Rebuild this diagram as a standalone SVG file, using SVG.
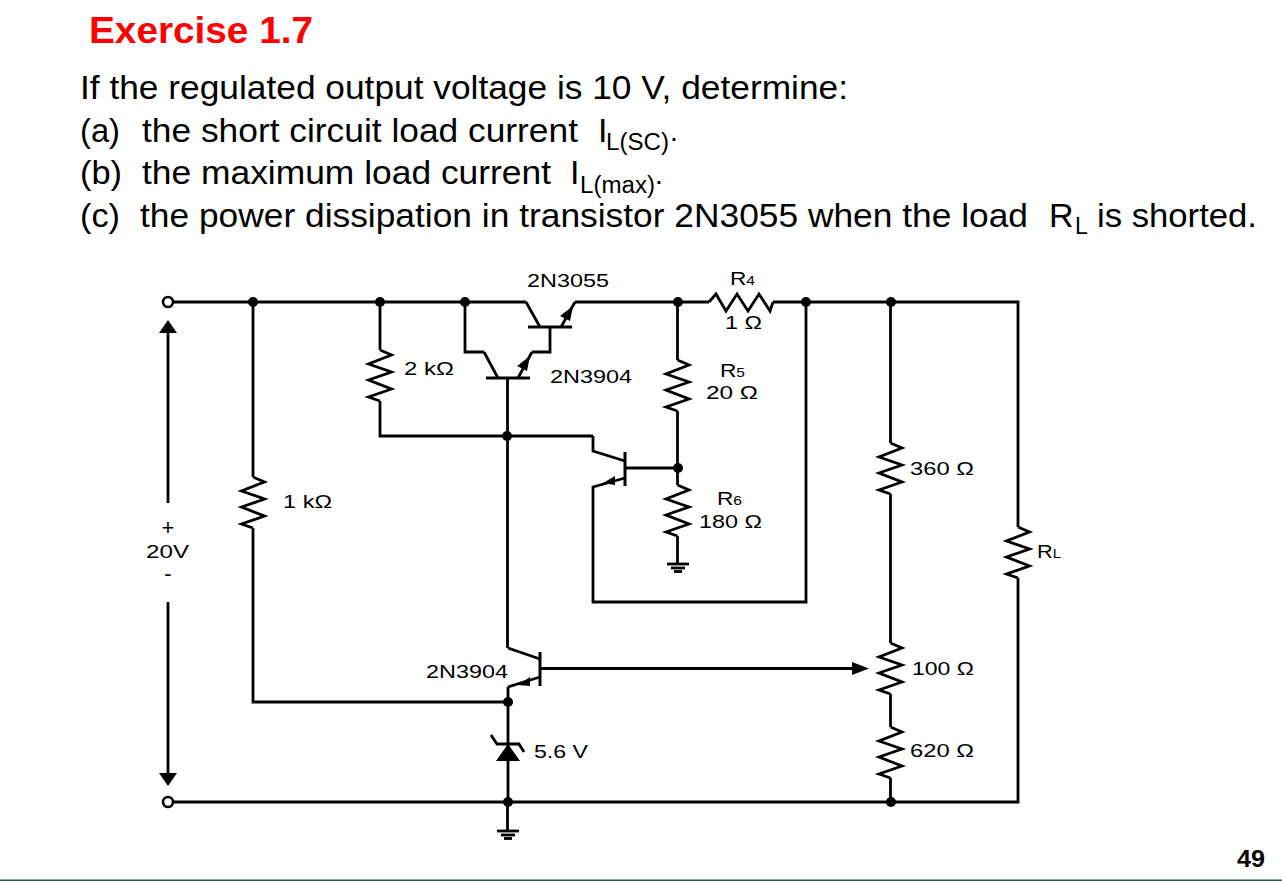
<svg xmlns="http://www.w3.org/2000/svg" xmlns:xlink="http://www.w3.org/1999/xlink" width="1282" height="881" viewBox="0 0 1282 881">
<style>
text{font-family:"Liberation Sans",Arial,sans-serif;fill:#000}
.t{font-size:34px}
.s{font-size:23px}
.d{font-size:28px}
.l{font-size:19px}
.c{text-anchor:middle}
.sm{font-size:13px}
.w{fill:none;stroke:#000;stroke-width:2.8;stroke-linejoin:miter}
.b{fill:none;stroke:#000;stroke-width:3}
.f{fill:#000;stroke:none}
</style>
<defs>
<path id="rv" class="w" d="M0 0 L11.500 5 L-11.500 14 L11.500 22 L-11.500 30 L11.500 39 L-11.500 47 L0 51"/>
<g id="gnd"><path class="w" d="M-11 0H11" /><path class="w" d="M-7 4H7" stroke-width="2"/><path class="w" d="M-4 7.500H4" stroke-width="2"/></g>
</defs>
<rect width="1282" height="881" fill="#fff"/>
<rect x="0" y="879.500" width="1282" height="1.500" fill="#2f4f4f"/>
<g id="heading">
<text x="89" y="43" font-size="37.500" font-weight="700" style="fill:#f00" textLength="224" lengthAdjust="spacingAndGlyphs">Exercise 1.7</text>
<text x="80" y="99" class="t" textLength="768" lengthAdjust="spacingAndGlyphs">If the regulated output voltage is 10 V, determine:</text>
<text x="80" y="142" class="t" textLength="40" lengthAdjust="spacingAndGlyphs">(a)</text>
<text x="142" y="142" class="t" textLength="436" lengthAdjust="spacingAndGlyphs">the short circuit load current</text>
<text x="598" y="142" class="t">I</text><text x="606" y="150" class="s" textLength="63" lengthAdjust="spacingAndGlyphs">L(SC)</text><text x="670" y="141" class="d">.</text>
<text x="80" y="184" class="t" textLength="42" lengthAdjust="spacingAndGlyphs">(b)</text>
<text x="142" y="184" class="t" textLength="409" lengthAdjust="spacingAndGlyphs">the maximum load current</text>
<text x="570" y="184" class="t">I</text><text x="580" y="193" class="s" textLength="75" lengthAdjust="spacingAndGlyphs">L(max)</text><text x="655" y="184" class="d">.</text>
<text x="80" y="227" class="t" textLength="40" lengthAdjust="spacingAndGlyphs">(c)</text>
<text x="140" y="227" class="t" textLength="888" lengthAdjust="spacingAndGlyphs">the power dissipation in transistor 2N3055 when the load</text>
<text x="1049" y="227" class="t">R</text><text x="1075" y="234" class="s">L</text>
<text x="1097" y="227" class="t" textLength="160" lengthAdjust="spacingAndGlyphs">is shorted.</text>
<text x="1237" y="867" font-size="23" font-weight="700" textLength="28" lengthAdjust="spacingAndGlyphs">49</text>
</g>
<g id="connectors">
<path class="w" d="M173 302H526M575 302H709M773 302H1018V527M1018 578V802H173"/>
<path class="w" d="M253 302V477M253 528V702H508"/>
<path class="w" d="M380 302V350M380 401V436H593"/>
<path class="w" d="M465 302V352H484"/>
<path class="w" d="M550 327V352H532"/>
<path class="w" d="M507.500 378V648M508 687V802"/>
<path class="w" d="M677.500 302V360M677.500 411V485M677.500 536V564"/>
<path class="w" d="M625 468H678"/>
<path class="w" d="M593 436V451L625 461M625 478L593 487V602H806V302"/>
<path class="w" d="M890.500 302V443M890.500 494V643M890.500 694V727M890.500 778V802"/>
<path class="w" d="M540 668.500H852"/>
<path class="w" d="M507.500 802V831"/>
<path class="w" d="M168 333V503M168 602V773" stroke-width="3"/>
</g>
<g id="input-top"><circle cx="168" cy="302" r="5" fill="#fff" stroke="#000" stroke-width="2.600"/></g>
<g id="input-bottom"><circle cx="168" cy="802" r="5" fill="#fff" stroke="#000" stroke-width="2.600"/></g>
<g id="voltage-arrow">
<path class="f" d="M168 320L177 333H159ZM168 786L177 773H159Z"/>
<text x="168" y="535" font-size="22" class="c">+</text>
<text x="146" y="558" class="l" textLength="43" lengthAdjust="spacingAndGlyphs">20V</text>
<text x="168" y="581" font-size="22" class="c">-</text>
</g>
<g id="junctions">
<circle class="f" cx="253" cy="302" r="5"/><circle class="f" cx="380" cy="302" r="5"/><circle class="f" cx="465" cy="302" r="5"/><circle class="f" cx="678" cy="302" r="5"/><circle class="f" cx="806" cy="302" r="5"/><circle class="f" cx="891" cy="302" r="5"/><circle class="f" cx="507" cy="436" r="5"/><circle class="f" cx="678" cy="468" r="5"/><circle class="f" cx="508" cy="702" r="5"/><circle class="f" cx="508" cy="802" r="5"/><circle class="f" cx="891" cy="802" r="5"/>
</g>
<g id="r-1k"><use xlink:href="#rv" href="#rv" x="253" y="477"/><text x="283" y="508" class="l" textLength="49" lengthAdjust="spacingAndGlyphs">1 kΩ</text></g>
<g id="r-2k"><use xlink:href="#rv" href="#rv" x="380" y="350"/><text x="404" y="375" class="l" textLength="50" lengthAdjust="spacingAndGlyphs">2 kΩ</text></g>
<g id="q-2n3055">
<path class="b" d="M528 327H572"/>
<path class="w" d="M526 302L540 327M561 327L575 302"/>
<path class="f" d="M573 306L570 321L560 316Z"/>
<text x="527" y="287" class="l" textLength="82" lengthAdjust="spacingAndGlyphs">2N3055</text>
</g>
<g id="q-2n3904-a">
<path class="b" d="M486 378H530"/>
<path class="w" d="M484 352L498 378M518 378L532 352"/>
<path class="f" d="M530 356L527 371L517 366Z"/>
<text x="550" y="383" class="l" textLength="82" lengthAdjust="spacingAndGlyphs">2N3904</text>
</g>
<g id="r4"><path class="w" d="M709 302L716 294L726 311L737 294L748 311L759 294L770 311L773 302"/><text x="730" y="285" class="l" textLength="25" lengthAdjust="spacingAndGlyphs">R<tspan class="sm">4</tspan></text><text x="725" y="329" class="l" textLength="37" lengthAdjust="spacingAndGlyphs">1 Ω</text></g>
<g id="r5"><use xlink:href="#rv" href="#rv" x="677.500" y="360"/><text x="720" y="377" class="l" textLength="25" lengthAdjust="spacingAndGlyphs">R<tspan class="sm">5</tspan></text><text x="706" y="398.500" class="l" textLength="52" lengthAdjust="spacingAndGlyphs">20 Ω</text></g>
<g id="r6"><use xlink:href="#rv" href="#rv" x="677.500" y="485"/><use xlink:href="#gnd" href="#gnd" x="678" y="564"/><text x="717" y="505" class="l" textLength="25" lengthAdjust="spacingAndGlyphs">R<tspan class="sm">6</tspan></text><text x="699" y="527.500" class="l" textLength="63" lengthAdjust="spacingAndGlyphs">180 Ω</text></g>
<g id="q-sense">
<path class="b" d="M625 452V486"/>
<path class="f" d="M603 483L615 476L615 485Z"/>
</g>
<g id="r-360"><use xlink:href="#rv" href="#rv" x="890.500" y="443"/><text x="910" y="475" class="l" textLength="64" lengthAdjust="spacingAndGlyphs">360 Ω</text></g>
<g id="r-100"><use xlink:href="#rv" href="#rv" x="890.500" y="643"/><path class="f" d="M852 662L869 668.500L852 675Z"/><text x="912" y="675" class="l" textLength="62" lengthAdjust="spacingAndGlyphs">100 Ω</text></g>
<g id="r-620"><use xlink:href="#rv" href="#rv" x="890.500" y="727"/><text x="910" y="757" class="l" textLength="64" lengthAdjust="spacingAndGlyphs">620 Ω</text></g>
<g id="r-load"><use xlink:href="#rv" href="#rv" x="1018" y="527"/><text x="1037" y="558" class="l" textLength="24" lengthAdjust="spacingAndGlyphs">R<tspan class="sm">L</tspan></text></g>
<g id="q-pass">
<path class="b" d="M540 652V686"/>
<path class="w" d="M508 648L540 659M540 677L508 687"/>
<path class="f" d="M518 685L530 677L530 686Z"/>
<text x="426" y="678" class="l" textLength="82" lengthAdjust="spacingAndGlyphs">2N3904</text>
</g>
<g id="zener">
<path class="f" d="M508 744L520 761H496Z"/>
<path class="w" d="M491 735L497 744H519L524 752"/>
<text x="534" y="758" class="l" textLength="54" lengthAdjust="spacingAndGlyphs">5.6 V</text>
</g>
<g id="ground-main"><use xlink:href="#gnd" href="#gnd" x="508" y="831"/></g>
</svg>
